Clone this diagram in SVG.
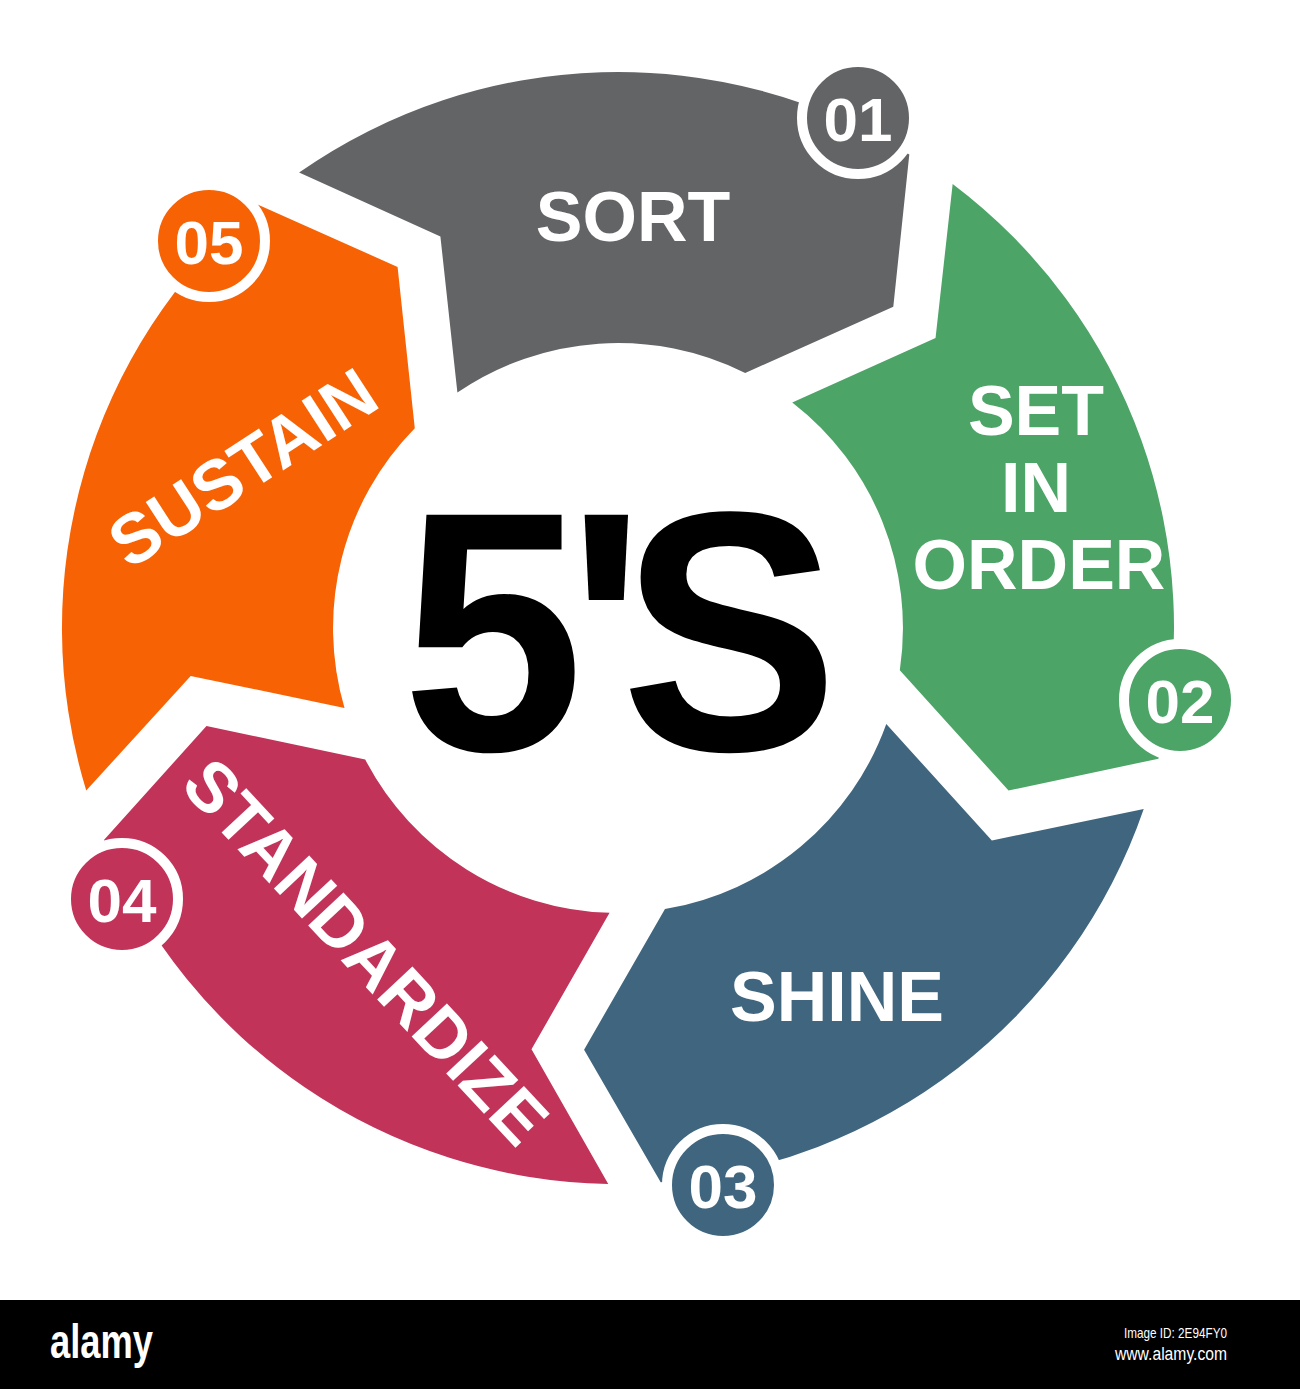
<svg xmlns="http://www.w3.org/2000/svg" width="1300" height="1389" viewBox="0 0 1300 1389">
<style>
.lbl{font-family:"Liberation Sans",Arial,Helvetica,sans-serif;font-weight:bold;fill:#fff;text-anchor:middle;}
.seg-text{font-size:70px;}
.num{font-size:62px;}
.badge{stroke:#fff;stroke-width:10;}
.center{font-family:"Liberation Sans",Arial,Helvetica,sans-serif;font-weight:bold;fill:#000;font-size:342px;}
.wm{font-family:"Liberation Sans",Arial,sans-serif;fill:#fff;}
</style>
<defs>
<path id="seg" d="M299.1,172.5 A556,556 0 0,1 909.3,154.4 L893.3,306.8 L745.2,373.0 A285,285 0 0,0 457.4,392.6 L440.4,236.4 Z"/>
</defs>
<rect x="0" y="0" width="1300" height="1389" fill="#ffffff"/>

<g id="sort">
<use href="#seg" fill="#636466"/>
<text class="lbl seg-text" x="633" y="241">SORT</text>
<circle class="badge" cx="858" cy="118" r="56" fill="#636466"/>
<text class="lbl num" x="858" y="141">01</text>
</g>

<g id="set-in-order">
<use href="#seg" fill="#4ca467" transform="rotate(72 618 628)"/>
<text class="lbl seg-text" x="1036" y="435">SET</text>
<text class="lbl seg-text" x="1036" y="512">IN</text>
<text class="lbl seg-text" x="1039" y="589">ORDER</text>
<circle class="badge" cx="1180" cy="700" r="56" fill="#4ca467"/>
<text class="lbl num" x="1180" y="723">02</text>
</g>

<g id="shine">
<use href="#seg" fill="#3f667e" transform="rotate(144 618 628)"/>
<text class="lbl seg-text" x="837" y="1021">SHINE</text>
<circle class="badge" cx="723" cy="1185" r="56" fill="#3f667e"/>
<text class="lbl num" x="723" y="1208">03</text>
</g>

<g id="standardize">
<use href="#seg" fill="#c13359" transform="rotate(216 618 628)"/>
<text class="lbl seg-text" transform="translate(348 968) rotate(47)" x="0" y="0">STANDARDIZE</text>
<circle class="badge" cx="122" cy="899" r="56" fill="#c13359"/>
<text class="lbl num" x="122" y="922">04</text>
</g>

<g id="sustain">
<use href="#seg" fill="#f76204" transform="rotate(288 618 628)"/>
<text class="lbl seg-text" transform="translate(256 488) rotate(-33)" x="0" y="0">SUSTAIN</text>
<circle class="badge" cx="209" cy="241" r="56" fill="#f76204"/>
<text class="lbl num" x="209" y="264">05</text>
</g>

<g id="center-title">
<text class="center" transform="translate(0 750) scale(0.955 1)" x="421" y="0" dx="0 -17.2 -25.4">5'S</text>
</g>

<g id="footer">
<rect x="0" y="1300" width="1300" height="89" fill="#000"/>
<text class="wm" x="50" y="1358" font-size="48" font-weight="bold" textLength="103" lengthAdjust="spacingAndGlyphs">alamy</text>
<text class="wm" x="1124" y="1338" font-size="15" textLength="103" lengthAdjust="spacingAndGlyphs">Image ID: 2E94FY0</text>
<text class="wm" x="1115" y="1360" font-size="18" textLength="112" lengthAdjust="spacingAndGlyphs">www.alamy.com</text>
</g>
</svg>
